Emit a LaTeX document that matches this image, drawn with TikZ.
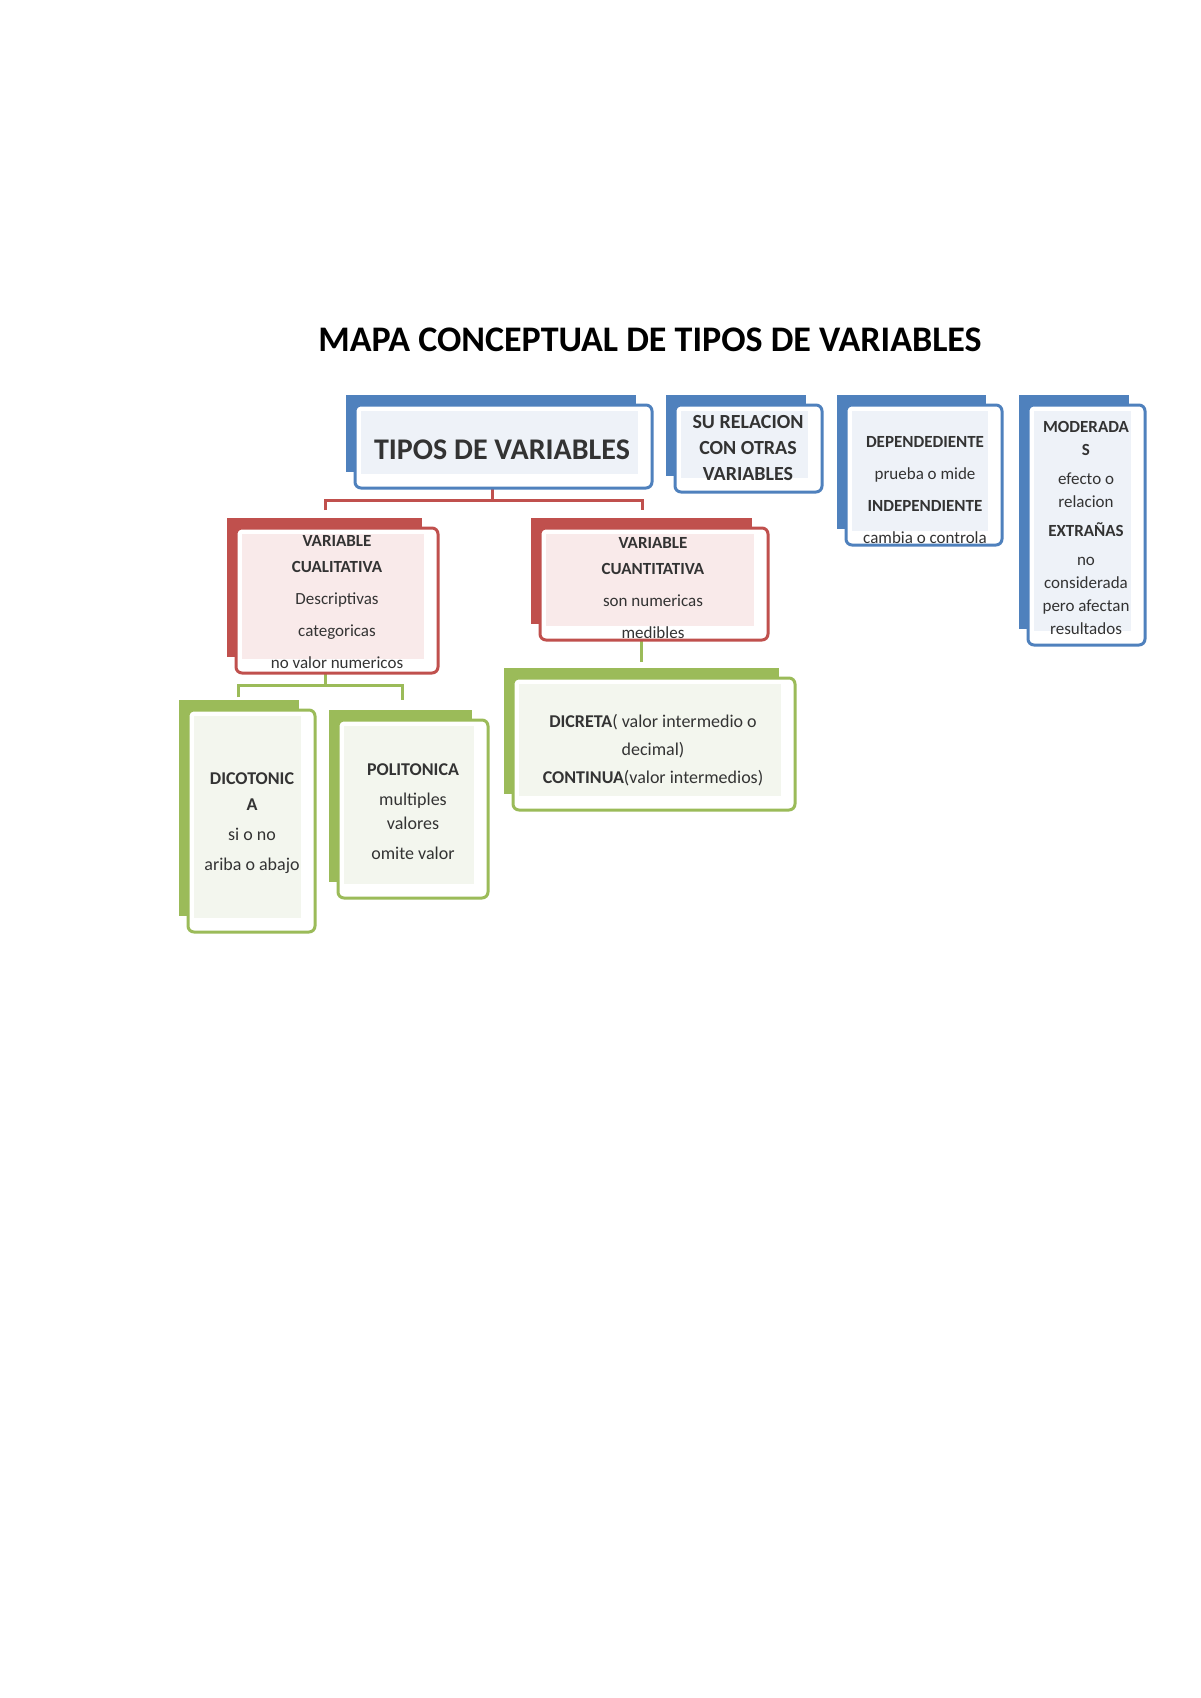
\documentclass[tikz,border=0pt]{standalone}
\usepackage{fontspec}
\setmainfont{Carlito}
\definecolor{cblue}{HTML}{4F81BD}
\definecolor{cred}{HTML}{C0504D}
\definecolor{cgreen}{HTML}{9BBB59}
\definecolor{pblue}{HTML}{EEF2F8}
\definecolor{pred}{HTML}{F9EAEA}
\definecolor{pgreen}{HTML}{F3F6EE}
\begin{document}
\begin{tikzpicture}[x=1pt,y=-1pt,
  txt/.style={align=center,font=\fontsize{17}{25}\selectfont,text=black!80},
  conn/.style={line width=3pt}]
\useasboundingbox[fill=white] (0,0) rectangle (1200,1698);
\newcommand\mybox[6]{% color, pale, x1,y1,x2,y2 (front box)
  \fill[#1] (#3-9,#4-10) rectangle (#5-16,#6-16);
  \filldraw[fill=white,draw=#1,line width=3pt,rounded corners=6pt] (#3,#4) rectangle (#5,#6);
  \fill[#2] (#3+6,#4+6) rectangle (#5-14,#6-14);}
\node[font=\fontsize{36}{40}\selectfont\bfseries] (title) at (650,340) {MAPA CONCEPTUAL DE TIPOS DE VARIABLES};
% connectors
\coordinate (r0) at (492,488); \coordinate (r1) at (492,500);
\draw[cred,conn] (r0)--(r1); \draw[cred,conn] (325,510)--(325,500)--(642,500)--(642,510);
\draw[cgreen,conn] (325,673)--(325,685); \draw[cgreen,conn] (238,697)--(238,685)--(402,685)--(402,700);
\draw[cgreen,conn] (641,640)--(641,662);
% boxes
\mybox{cblue}{pblue}{355}{405}{652}{488}
\node[font=\fontsize{30}{34}\selectfont\bfseries,text=black!80] (tipos) at (502,450) {TIPOS DE VARIABLES};
\mybox{cblue}{pblue}{675}{405}{822}{492}
\node[txt,font=\fontsize{20}{26}\selectfont\bfseries] (rel) at (748,448) {SU RELACION\\CON OTRAS\\VARIABLES};
\mybox{cblue}{pblue}{846}{405}{1002}{545}
\node[txt,font=\fontsize{17}{32}\selectfont] (dep) at (925,490) {\textbf{DEPENDEDIENTE}\\prueba o mide\\\textbf{INDEPENDIENTE}\\cambia o controla};
\mybox{cblue}{pblue}{1028}{405}{1145}{645}
\node[txt,font=\fontsize{17}{23}\selectfont] (mod) at (1086,528) {\textbf{MODERADA}\\\textbf{S}\\[6pt]efecto o\\relacion\\[6pt]\textbf{EXTRAÑAS}\\[6pt]no\\considerada\\pero afectan\\resultados};
\mybox{cred}{pred}{236}{528}{438}{673}
\node[txt,font=\fontsize{17}{32}\selectfont] (cual) at (337,602) {\textbf{VARIABLE}\\[-6pt]\textbf{CUALITATIVA}\\Descriptivas\\categoricas\\no valor numericos};
\mybox{cred}{pred}{540}{528}{768}{640}
\node[txt,font=\fontsize{17}{32}\selectfont] (cuan) at (653,588) {\textbf{VARIABLE}\\[-6pt]\textbf{CUANTITATIVA}\\son numericas\\medibles};
\mybox{cgreen}{pgreen}{188}{710}{315}{932}
\node[txt,font=\fontsize{18}{30}\selectfont] (dic) at (252,823) {\textbf{DICOTONIC}\\[-4pt]\textbf{A}\\si o no\\ariba o abajo};
\mybox{cgreen}{pgreen}{338}{720}{488}{898}
\node[txt,font=\fontsize{18}{30}\selectfont] (pol) at (413,812) {\textbf{POLITONICA}\\multiples\\[-6pt]valores\\omite valor};
\mybox{cgreen}{pgreen}{513}{678}{795}{810}
\node[txt,font=\fontsize{18}{28}\selectfont] (dis) at (653,750) {\textbf{DICRETA}( valor intermedio o\\decimal)\\\textbf{CONTINUA}(valor intermedios)};
\end{tikzpicture}
\end{document}
